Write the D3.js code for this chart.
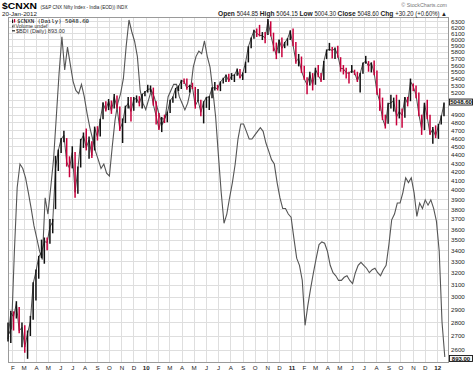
<!DOCTYPE html>
<html>
<head>
<meta charset="utf-8">
<script src="https://cdn.jsdelivr.net/npm/d3@7"></script>
<style>
  body { margin: 0; background: #fff; }
  svg text { font-family: "Liberation Sans", Arial, sans-serif; }
</style>
</head>
<body>
<div id="chart"></div>
<script>
// weekly readings (Fridays) from 23-Jan-2009 to 20-Jan-2012
const firstWeek = new Date(2009, 0, 23);

const niftyClose = [
  2678, 2874, 2843, 2948, 2737, 2763, 2620, 2719, 2807, 3108, 3211, 3342, 3384, 3481, 3474, 3621, 3672, 4238, 4449, 4586,
  4636, 4313, 4241, 4424, 3975, 4231, 4568, 4636, 4481, 4580, 4389, 4732, 4608, 4829, 5052, 4959, 5083, 4945, 5142, 4998,
  4711, 4796, 4998, 5052, 4942, 5108, 5117, 5047, 5178, 5201,
  5245, 5252, 5036, 4882, 4718, 4845, 4844, 4922, 5088, 5137, 5262, 5282, 5368, 5361, 5262, 5304, 5278, 5018, 5093, 4931,
  5066, 5135, 5138, 5263, 5269, 5251, 5353, 5393, 5449, 5367, 5439, 5452, 5530, 5409, 5479, 5640, 5884, 6018, 6143, 6103,
  6062, 6066, 6017, 6312, 6071, 5890, 5752, 5992, 5857, 5948, 6011, 6135,
  5904, 5654, 5696, 5512, 5396, 5310, 5458, 5303, 5538, 5445, 5374, 5654, 5827, 5842, 5824, 5851, 5750, 5552, 5544, 5486,
  5476, 5516, 5486, 5367, 5471, 5628, 5660, 5581, 5633, 5483, 5212, 5073, 4845, 4748, 5040, 5059, 5085, 4868, 4943, 4888,
  5132, 5049, 5360, 5284, 5168, 4906, 4710, 5050, 4866, 4651, 4714, 4624,
  4754, 4867, 5048.6
];
const niftyHigh = [
  2800, 2890, 2885, 2965, 2920, 2800, 2780, 2740, 2850, 3120, 3230, 3350, 3500, 3520, 3520, 3700, 3700, 4385, 4460, 4600,
  4693, 4600, 4380, 4500, 4430, 4260, 4590, 4670, 4720, 4620, 4560, 4745, 4750, 4845, 5065, 5080, 5110, 5090, 5181, 5160,
  5010, 4850, 5020, 5140, 5140, 5140, 5160, 5150, 5185, 5222,
  5310, 5300, 5270, 5080, 4920, 4870, 4900, 4940, 5100, 5145, 5265, 5300, 5380, 5400, 5399, 5310, 5340, 5280, 5250, 5100,
  5080, 5140, 5150, 5275, 5350, 5310, 5360, 5410, 5460, 5470, 5480, 5460, 5550, 5540, 5490, 5650, 5890, 6030, 6160, 6180,
  6240, 6120, 6120, 6338, 6300, 6110, 5950, 6000, 6030, 5960, 6020, 6150,
  6180, 5960, 5770, 5730, 5590, 5420, 5500, 5480, 5560, 5600, 5480, 5660, 5840, 5944, 5880, 5870, 5900, 5720, 5600, 5560,
  5500, 5600, 5530, 5500, 5480, 5640, 5740, 5660, 5640, 5670, 5520, 5260, 5130, 4900, 5060, 5170, 5130, 5170, 5100, 4980,
  5140, 5140, 5400, 5330, 5300, 5200, 4900, 5060, 5100, 4900, 4740, 4760,
  4780, 4890, 5064
];
const niftyLow = [
  2660, 2650, 2740, 2830, 2720, 2620, 2580, 2539, 2700, 2820, 2970, 3150, 3330, 3280, 3400, 3460, 3560, 3800, 4210, 4420,
  4550, 4260, 4140, 4240, 3918, 3960, 4250, 4480, 4450, 4350, 4360, 4450, 4570, 4620, 4840, 4940, 4960, 4910, 4980, 4980,
  4690, 4540, 4790, 4980, 4810, 4950, 5060, 5010, 4980, 5150,
  5200, 5210, 5020, 4770, 4700, 4675, 4790, 4800, 4920, 5060, 5120, 5220, 5250, 5320, 5240, 5200, 5250, 4980, 5080, 4880,
  4786, 4990, 4960, 5120, 5230, 5230, 5220, 5330, 5350, 5350, 5380, 5350, 5440, 5400, 5380, 5480, 5640, 5860, 6010, 6040,
  6050, 5990, 5940, 6070, 6050, 5810, 5690, 5780, 5720, 5860, 5900, 5990,
  5890, 5620, 5580, 5480, 5380, 5177, 5300, 5230, 5310, 5420, 5350, 5380, 5690, 5820, 5700, 5690, 5710, 5500, 5460, 5400,
  5330, 5480, 5450, 5350, 5200, 5470, 5620, 5500, 5490, 5450, 5170, 4950, 4830, 4720, 4780, 4980, 4940, 4760, 4850, 4730,
  4860, 5010, 5080, 5220, 5120, 4880, 4640, 4700, 4840, 4640, 4531, 4600,
  4590, 4770, 4880
];
const bdiClose = [
  1000, 1030, 1500, 2050, 2300, 2250, 2150, 2000, 1850, 1700, 1600, 1500, 1440, 1950, 1800, 2050, 2350, 2900, 3600, 4291,
  3650, 4080, 3750, 3450, 3300, 3250, 3400, 3200, 2950, 2750, 2600, 2450, 2350, 2250, 2300, 2200, 2170, 2500, 2850, 3100,
  3250, 3500, 4100, 4661, 4400, 4200, 3900, 3300, 3100, 3005,
  3150, 3300, 3200, 3050, 2900, 2800, 2900, 3200, 3300, 3400, 3400, 3200, 3100, 3000, 3100, 3300, 3700, 3900, 4000, 3950,
  4209, 3900, 3700, 3300, 2900, 2400, 2000, 1720, 1800, 1950, 2100, 2300, 2600, 2800, 2800, 2700, 2600, 2600, 2650, 2700,
  2750, 2700, 2550, 2450, 2350, 2300, 2100, 1950, 1850, 1850, 1800, 1773,
  1600, 1450, 1400, 1300, 1043, 1150, 1250, 1350, 1450, 1550, 1570, 1560, 1500, 1400, 1350, 1330, 1300, 1300, 1320, 1330,
  1300, 1280, 1350, 1400, 1420, 1400, 1380, 1350, 1370, 1380, 1350, 1330, 1370, 1400, 1550, 1750, 1800, 1900, 1900, 2000,
  2150, 2100, 2150, 2000, 1780, 1900, 1850, 1930, 1880, 1930, 1850, 1738,
  1500, 1060, 893
];
const priceTicks = d3.range(2600, 6301, 100);
const monthNames = ["", "F", "M", "A", "M", "J", "J", "A", "S", "O", "N", "D"];

const W = 474, H = 372;
const plot = { left: 8, right: 448, top: 17, bottom: 362 };

const dates = niftyClose.map((d, i) => d3.timeDay.offset(firstWeek, 7 * i));

const x = d3.scaleTime()
  .domain([new Date(2009, 0, 21), new Date(2012, 0, 28)])
  .range([plot.left, plot.right]);
const y = d3.scaleLog().domain([2600, 6300]).range([350, 21.3]);
const yBdi = d3.scaleLog().domain([893, 4661]).range([357, 20]);

const svg = d3.select("#chart").append("svg")
  .attr("width", W).attr("height", H);

// grid
const months = d3.timeMonth.range(new Date(2009, 1, 1), new Date(2012, 0, 2));
svg.append("g").selectAll("line").data(months).join("line")
  .attr("x1", d => Math.round(x(d)) + 0.5).attr("x2", d => Math.round(x(d)) + 0.5)
  .attr("y1", plot.top).attr("y2", plot.bottom)
  .attr("stroke", "#dedede").attr("stroke-width", 1);
svg.append("g").selectAll("line").data(priceTicks).join("line")
  .attr("x1", plot.left).attr("x2", plot.right)
  .attr("y1", d => Math.round(y(d)) + 0.5).attr("y2", d => Math.round(y(d)) + 0.5)
  .attr("stroke", "#dedede").attr("stroke-width", 1);

svg.append("rect")
  .attr("x", plot.left + 0.5).attr("y", plot.top + 0.5)
  .attr("width", plot.right - plot.left).attr("height", plot.bottom - plot.top)
  .attr("fill", "none").attr("stroke", "#9a9a9a");

// right axis (the label under the closing value box is hidden, as in the original)
const lastClose = niftyClose[niftyClose.length - 1];
const yAxis = d3.axisRight(y).tickValues(priceTicks.filter(v => Math.abs(y(v) - y(lastClose)) > 4.5))
  .tickFormat(d3.format("d")).tickSize(0).tickPadding(3);
const ya = svg.append("g").attr("transform", `translate(${plot.right},0)`).call(yAxis);
ya.select(".domain").remove();
ya.selectAll("text").attr("font-size", 6.2).attr("fill", "#222")
  .style("font-family", "'Liberation Sans', Arial, sans-serif");

// bottom axis
const xAxis = d3.axisBottom(x).tickValues(months).tickSize(0).tickPadding(4)
  .tickFormat(d => d.getMonth() === 0 ? d3.timeFormat("%y")(d) : monthNames[d.getMonth()]);
const xa = svg.append("g").attr("transform", `translate(0,${plot.bottom})`).call(xAxis);
xa.select(".domain").remove();
xa.selectAll("text").attr("font-size", 6.2).attr("fill", "#222")
  .attr("font-weight", d => d.getMonth() === 0 ? "bold" : "normal")
  .style("font-family", "'Liberation Sans', Arial, sans-serif");

// BDI overlay
const bdiLine = d3.line().x((d, i) => x(dates[i])).y(d => yBdi(d));
svg.append("path").datum(bdiClose)
  .attr("d", bdiLine).attr("fill", "none")
  .attr("stroke", "#555").attr("stroke-width", 1.1);

// price bars
const barX = i => x(d3.timeDay.offset(dates[i], -2));
svg.append("path").datum(niftyClose)
  .attr("d", d3.line().x((d, i) => barX(i)).y(d => y(d)))
  .attr("fill", "none").attr("stroke", "#222").attr("stroke-width", 0.8);
svg.append("g").selectAll("line").data(niftyClose).join("line")
  .attr("x1", (d, i) => barX(i)).attr("x2", (d, i) => barX(i))
  .attr("y1", (d, i) => y(niftyHigh[i]))
  .attr("y2", (d, i) => y(niftyLow[i]))
  .attr("stroke", (d, i) => (i === 0 || d >= niftyClose[i - 1]) ? "#111" : "#c8003c")
  .attr("stroke-width", 1.5);

// value boxes
function valueBox(yy, label) {
  const g = svg.append("g").attr("transform", `translate(449,${yy})`);
  g.append("rect").attr("x", 0.5).attr("y", -3).attr("width", 23).attr("height", 6)
    .attr("fill", "#f4f4f4").attr("stroke", "#111").attr("stroke-width", 0.9);
  g.append("text").attr("x", 12).attr("y", 2.2).attr("text-anchor", "middle")
    .attr("font-size", 6).attr("font-weight", "bold").attr("fill", "#111").text(label);
}
valueBox(y(lastClose) - 1.5, "5048.60");
valueBox(yBdi(bdiClose[bdiClose.length - 1]) + 1.5, "893.00");

// header
svg.append("text").attr("x", 2).attr("y", 9).attr("font-size", 9.5).attr("font-weight", "bold")
  .attr("textLength", 35).attr("lengthAdjust", "spacingAndGlyphs").text("$CNXN");
svg.append("text").attr("x", 40.5).attr("y", 8.5).attr("font-size", 5.4).attr("fill", "#222")
  .attr("textLength", 87).attr("lengthAdjust", "spacingAndGlyphs").text("(S&P CNX Nifty Index - India (EOD)) INDX");
svg.append("text").attr("x", 2).attr("y", 15.5).attr("font-size", 5.8).attr("fill", "#222")
  .attr("textLength", 35).attr("lengthAdjust", "spacingAndGlyphs").text("20-Jan-2012");
svg.append("text").attr("x", 447).attr("y", 7).attr("font-size", 5.3).attr("fill", "#777")
  .attr("text-anchor", "end").text("© StockCharts.com");

const hdr = svg.append("text").attr("x", 218).attr("y", 15.5).attr("font-size", 6.3).attr("fill", "#222")
  .attr("textLength", 229).attr("lengthAdjust", "spacingAndGlyphs");
[["Open ", true], ["5044.85 ", false], ["High ", true], ["5064.15 ", false], ["Low ", true], ["5004.30 ", false],
 ["Close ", true], ["5048.60 ", false], ["Chg ", true], ["+30.20 (+0.60%) \u25B2", false]]
  .forEach(([t, b]) => hdr.append("tspan").attr("font-weight", b ? "bold" : "normal")
    .attr("font-size", b ? 7 : 6.3).text(t));

// legend
const lg = svg.append("g").attr("transform", "translate(11,0)");
lg.append("rect").attr("x", 1).attr("y", 19.5).attr("width", 1.2).attr("height", 3.5).attr("fill", "#111");
lg.append("rect").attr("x", 3).attr("y", 19).attr("width", 1.2).attr("height", 3.5).attr("fill", "#c8003c");
lg.append("text").attr("x", 6).attr("y", 23).attr("font-size", 5.4)
  .style("font-family", "'DejaVu Sans Mono', monospace")
  .attr("textLength", 72).attr("lengthAdjust", "spacingAndGlyphs").text("$CNXN (Daily) 5048.60");
lg.append("rect").attr("x", 1).attr("y", 25.5).attr("width", 1).attr("height", 2).attr("fill", "#555");
lg.append("rect").attr("x", 2.5).attr("y", 24.5).attr("width", 1).attr("height", 3).attr("fill", "#555");
lg.append("text").attr("x", 4.5).attr("y", 28).attr("font-size", 4.6).attr("fill", "#333")
  .attr("textLength", 32).attr("lengthAdjust", "spacingAndGlyphs").text("Volume undef");
lg.append("line").attr("x1", 1).attr("x2", 4).attr("y1", 30.8).attr("y2", 30.8).attr("stroke", "#222").attr("stroke-width", 1.2);
lg.append("text").attr("x", 5).attr("y", 32.6).attr("font-size", 4.6).attr("fill", "#333")
  .attr("textLength", 49).attr("lengthAdjust", "spacingAndGlyphs").text("$BDI (Daily) 893.00");
</script>
</body>
</html>
